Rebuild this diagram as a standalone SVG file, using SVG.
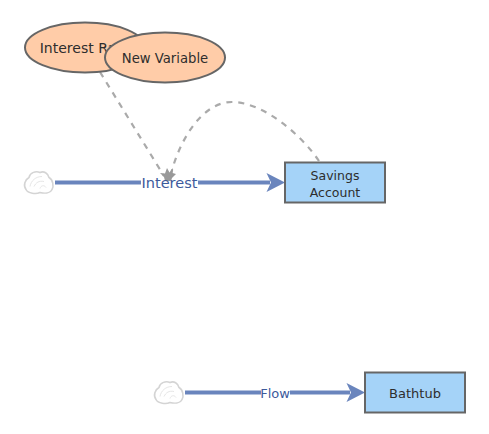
<svg xmlns="http://www.w3.org/2000/svg" width="489" height="434" viewBox="0 0 489 434">
<style>
text{font-family:"DejaVu Sans","Liberation Sans",sans-serif;font-size:13px;text-anchor:middle;fill:#2d2d2d}
.el{fill:#ffcca8;stroke:#666;stroke-width:2}
.st{fill:#a5d3f8;stroke:#666;stroke-width:2}
.fl{fill:none;stroke:#6a85bd;stroke-width:4}
.hd{fill:#6a85bd}
.dash{fill:none;stroke:#aaa;stroke-width:2.200;stroke-dasharray:6 6}
.lab{fill:#3d5a9c}
.lb{fill:#fff}
.cl{fill:#fff;stroke:#d4d4d4;stroke-width:1.600}
.cd{fill:none;stroke:#e6e6e6;stroke-width:1}
</style>
<defs>
<g id="cloud">
<path class="cl" d="M-13 7C-16 3-14-3-10-5C-9-10-3-12 1-10C5-12 9-9 10-5C14-3 15 4 13 7C11 11 5 11 1 10C-3 12-11 11-13 7Z"/>
<path class="cd" d="M-9 4C-8-2-3-6 3-6M-5 4C-3 0 0-2 5-1M1 6C2 3 5 2 7 5"/>
</g>
</defs>
<g id="connectors">
<path class="dash" d="M100 72L164 176"/>
<path class="dash" d="M319 161C300 133 262 102 232 102C200 102 178 145 171 174"/>
<path class="fl" d="M55 182.500H270"/>
<path class="hd" d="M266.500 173L285 182.500L266.500 192L271 182.500Z"/>
<path class="fl" d="M185 392.500H350"/>
<path class="hd" d="M346.500 383L365 392.500L346.500 402L351 392.500Z"/>
</g>
<g id="cloud1"><use href="#cloud" x="39" y="182.500"/></g>
<g id="cloud2"><use href="#cloud" x="169" y="392.500"/></g>
<g id="interest-flow">
<rect class="lb" x="141" y="180" width="57" height="9"/>
<path fill="#999" d="M160 173L165 173.500L167 168L169.500 172.500L173 168L172.500 173L176 174L172 178L171 181L165 181L164 177Z"/>
<text class="lab" x="169.500" y="188" style="font-size:14.500px">Interest</text>
</g>
<g id="flow">
<rect class="lb" x="261" y="386" width="29" height="14"/>
<text class="lab" x="275" y="398">Flow</text>
</g>
<g id="interest-rate">
<ellipse class="el" cx="85" cy="47.500" rx="60" ry="25"/>
<text x="85" y="53" style="font-size:14px">Interest Rate</text>
</g>
<g id="new-variable">
<ellipse class="el" cx="165" cy="57.500" rx="60" ry="25"/>
<text x="165" y="63" style="font-size:13.200px">New Variable</text>
</g>
<g id="savings-account">
<rect class="st" x="285" y="162.500" width="100" height="40"/>
<text x="335" y="180" style="font-size:12.500px">Savings</text>
<text x="335" y="197" style="font-size:12.500px">Account</text>
</g>
<g id="bathtub">
<rect class="st" x="365" y="372.500" width="100" height="40"/>
<text x="415" y="398">Bathtub</text>
</g>
</svg>
